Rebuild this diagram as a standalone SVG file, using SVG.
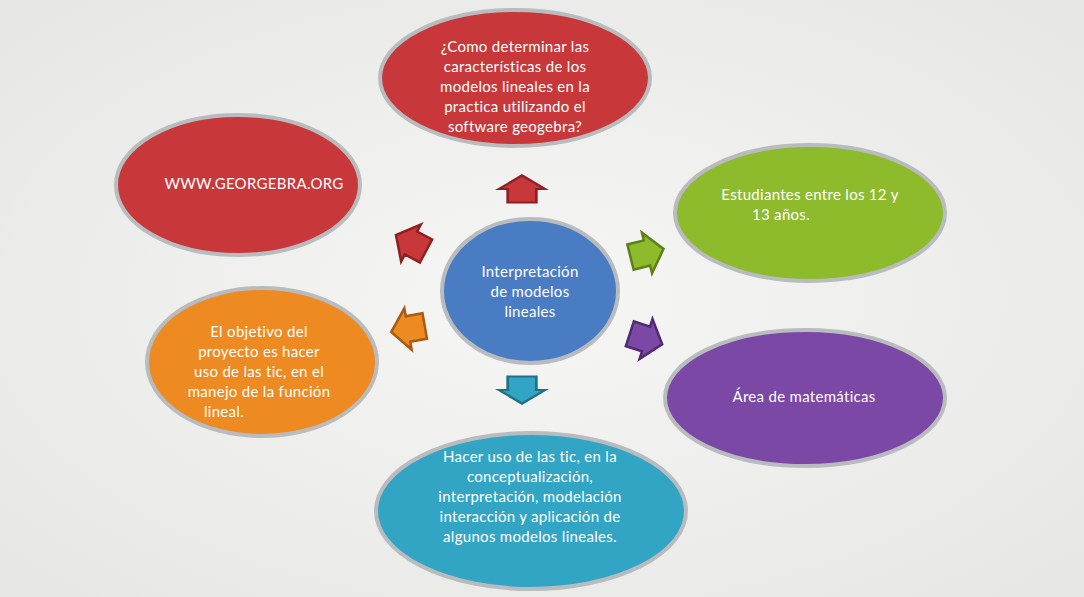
<svg xmlns="http://www.w3.org/2000/svg" width="1084" height="597" viewBox="0 0 1084 597">
<defs>
<radialGradient id="bg" cx="50%" cy="50%" r="70%"><stop offset="0" stop-color="#f6f6f5"/><stop offset="1" stop-color="#e6e6e4"/></radialGradient>
<path id="arr" d="M-13,17 L13,17 L13,0 L21,0 L0,-17 L-21,0 L-13,0 Z"/>
</defs>
<style>
.e{stroke:#b9bcbf;stroke-width:4}
.t{font-family:Lato,"Open Sans",sans-serif;font-size:15px;fill:#fff;text-anchor:middle;letter-spacing:0.3px}
.a{stroke-width:2.5;stroke-linejoin:miter}
</style>
<rect width="1084" height="597" fill="url(#bg)"/>
<g id="connectors">
<use href="#arr" class="a" fill="#c8383a" stroke="#8e2022" transform="translate(522,189) scale(1.1,0.8)"/>
<use href="#arr" class="a" fill="#c8383a" stroke="#8e2022" transform="translate(411,243) rotate(-62)"/>
<use href="#arr" class="a" fill="#ee8a22" stroke="#a85a10" transform="translate(408,329) rotate(-100)"/>
<use href="#arr" class="a" fill="#8dbb2c" stroke="#5d8018" transform="translate(647,253) rotate(76)"/>
<use href="#arr" class="a" fill="#7b48a6" stroke="#4f2a70" transform="translate(646,339) rotate(108)"/>
<use href="#arr" class="a" fill="#33a5c4" stroke="#1f6f85" transform="translate(522,390) rotate(180) scale(1.1,0.8)"/>
</g>
<g id="center"><ellipse class="e" cx="530" cy="291" rx="88" ry="72" fill="#4a7cc4"/>
<text class="t"><tspan x="530" y="277">Interpretación</tspan><tspan x="530" y="297">de modelos</tspan><tspan x="530" y="317">lineales</tspan></text></g>
<g id="n-top"><ellipse class="e" cx="515" cy="78" rx="135" ry="68" fill="#c8383a"/>
<text class="t"><tspan x="515" y="52">¿Como determinar las</tspan><tspan x="515" y="72">características de los</tspan><tspan x="515" y="92">modelos lineales en la</tspan><tspan x="515" y="112">practica utilizando el</tspan><tspan x="515" y="132">software geogebra?</tspan></text></g>
<g id="n-www"><ellipse class="e" cx="238" cy="185" rx="122" ry="70" fill="#c8383a"/>
<text class="t" x="254" y="189">WWW.GEORGEBRA.ORG</text></g>
<g id="n-green"><ellipse class="e" cx="810" cy="213" rx="135" ry="68" fill="#8dbb2c"/>
<text class="t"><tspan x="810" y="200">Estudiantes entre los 12 y</tspan><tspan x="781" y="220">13 años.</tspan></text></g>
<g id="n-orange"><ellipse class="e" cx="262" cy="362" rx="115" ry="74" fill="#ee8a22"/>
<text class="t"><tspan x="259" y="337">El objetivo del</tspan><tspan x="259" y="357">proyecto es hacer</tspan><tspan x="259" y="377">uso de las tic, en el</tspan><tspan x="259" y="397">manejo de la función</tspan><tspan x="224" y="417">lineal.</tspan></text></g>
<g id="n-purple"><ellipse class="e" cx="805" cy="398" rx="140" ry="68" fill="#7b48a6"/>
<text class="t" x="804" y="402">Área de matemáticas</text></g>
<g id="n-cyan"><ellipse class="e" cx="531" cy="511" rx="155" ry="78" fill="#33a5c4"/>
<text class="t"><tspan x="530" y="462">Hacer uso de las tic, en la</tspan><tspan x="530" y="482">conceptualización,</tspan><tspan x="530" y="502">interpretación, modelación</tspan><tspan x="530" y="522">interacción y aplicación de</tspan><tspan x="530" y="542">algunos modelos lineales.</tspan></text></g>
</svg>
